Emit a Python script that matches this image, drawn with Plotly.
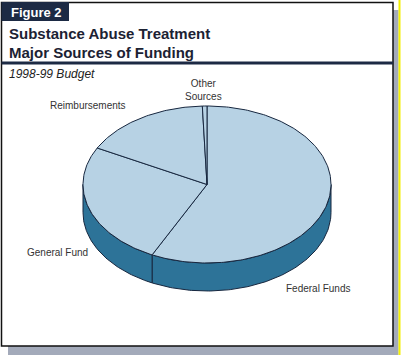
import math
import plotly.graph_objects as go

# ---- data ----
categories = ["Federal Funds", "General Fund", "Reimbursements", "Other Sources"]
values = [57.3, 25.4, 16.7, 0.6]
label_text = ["Federal Funds", "General Fund", "Reimbursements", "Other<br>Sources"]

# ---- style / layout constants ----
W, H = 401, 355
CX, CY, RX, RY, DEPTH = 207, 184.5, 124, 78.5, 28
TOP_COLOR = "#b7d2e4"
SIDE_COLOR = "#2d7398"
EDGE = "#17273f"
NAVY = "#1c2a44"
SHADOW = "#a3aaba"
FONT = "Liberation Sans, Arial, sans-serif"
label_pos = [(318, 288), (57, 252), (88, 105.5), (203, 90)]

fig = go.Figure()

total = sum(values)
spans = [v / total * 360 for v in values]
starts = []
a = 90.0
for sp in spans:
    starts.append(a)
    a -= sp


def pt(t, dy=0.0):
    r = math.radians(t)
    return CX + RX * math.cos(r), CY - RY * math.sin(r) + dy


def arc(a0, a1, dy=0.0):
    n = max(2, int(abs(a1 - a0)) + 1)
    return [pt(a0 + (a1 - a0) * i / (n - 1), dy) for i in range(n)]


# side walls (visible lower half: angles in [-180, 0])
for s, sp in zip(starts, spans):
    e = s - sp
    hi, lo = min(s, 0), max(e, -180)
    if hi <= lo:
        continue
    top = arc(hi, lo)
    bot = arc(lo, hi, DEPTH)
    pts = top + bot + [top[0]]
    fig.add_trace(go.Scatter(
        x=[p[0] for p in pts], y=[p[1] for p in pts], mode="lines",
        fill="toself", fillcolor=SIDE_COLOR, line=dict(color=EDGE, width=1),
        hoverinfo="skip", showlegend=False))

# top faces
for name, s, sp in zip(categories, starts, spans):
    e = s - sp
    pts = [(CX, CY)] + arc(s, e) + [(CX, CY)]
    fig.add_trace(go.Scatter(
        x=[p[0] for p in pts], y=[p[1] for p in pts], mode="lines",
        fill="toself", fillcolor=TOP_COLOR, line=dict(color=EDGE, width=1),
        name=name, hoverinfo="name", showlegend=False))

shapes = [
    # shadow
    dict(type="rect", x0=8, y0=10, x1=398.5, y1=355, fillcolor=SHADOW, line_width=0, layer="below"),
    dict(type="rect", x0=398.5, y0=0, x1=400.5, y1=355, fillcolor="#f4f000", line_width=0, layer="below"),
    # frame
    dict(type="rect", x0=1.5, y0=2.5, x1=393, y1=346, fillcolor="white",
         line=dict(color="#111111", width=1.5), layer="below"),
    # header box
    dict(type="rect", x0=1.5, y0=2, x1=69, y1=21, fillcolor=NAVY, line_width=0, layer="below"),
    # rule under title
    dict(type="rect", x0=1.5, y0=61.5, x1=393, y1=64.5, fillcolor=NAVY, line_width=0, layer="below"),
]

annotations = [
    dict(x=9, y=12, text="<b>Figure 2</b>", font=dict(family=FONT, size=13, color="white"),
         xanchor="left", yanchor="middle", showarrow=False),
    dict(x=7, y=33, text="<b>Substance Abuse Treatment</b>", font=dict(family=FONT, size=15, color="#1c2233"),
         xanchor="left", yanchor="middle", showarrow=False),
    dict(x=7, y=52, text="<b>Major Sources of Funding</b>", font=dict(family=FONT, size=15, color="#1c2233"),
         xanchor="left", yanchor="middle", showarrow=False),
    dict(x=7, y=73.5, text="<i>1998-99 Budget</i>", font=dict(family=FONT, size=12, color="#222222"),
         xanchor="left", yanchor="middle", showarrow=False),
]
for txt, (lx, ly) in zip(label_text, label_pos):
    annotations.append(dict(x=lx, y=ly, text=txt, font=dict(family=FONT, size=10, color="#333333"),
                            xanchor="center", yanchor="middle", showarrow=False))

fig.update_layout(
    width=W, height=H, margin=dict(l=0, r=0, t=0, b=0),
    paper_bgcolor="white", plot_bgcolor="rgba(0,0,0,0)",
    xaxis=dict(range=[0, W], visible=False, fixedrange=True),
    yaxis=dict(range=[H, 0], visible=False, fixedrange=True),
    shapes=shapes, annotations=annotations, showlegend=False,
)

fig.write_html("out.html", config={"displayModeBar": False},
               post_script="document.body.style.margin='0';document.body.style.overflow='hidden';")
